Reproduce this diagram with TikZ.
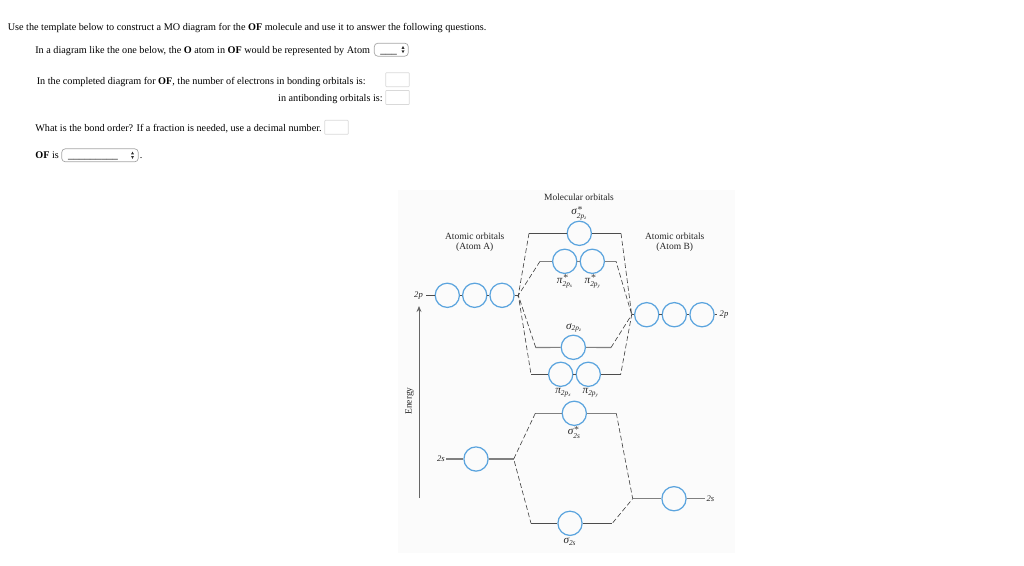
\documentclass[tikz,border=0pt]{standalone}
\usepackage{fontspec}
\setmainfont{Liberation Serif}
\usetikzlibrary{arrows.meta}
\newcommand{\orbsub}[1]{\mbox{\fontsize{4.2}{4.5}\selectfont\itshape #1}}
\newcommand{\orbsubsub}[1]{\raisebox{-0.5pt}{\fontsize{2.8}{3}\selectfont #1}}
\tikzset{
    orbital/.style={circle,draw=orbblue,line width=0.7pt,minimum size=0.485cm,inner sep=0pt},
    level/.style={draw=black!70,line width=0.55pt},
    levelgray/.style={draw=black!50,line width=0.65pt},
    mix/.style={draw=black!75,line width=0.35pt,dash pattern=on 2.8pt off 1.5pt},
    question/.style={anchor=base west,inner sep=0pt,font=\fontsize{5.8}{7}\selectfont},
    caption/.style={align=center,inner sep=0pt,text=black!85,font=\fontsize{5.4}{5.9}\selectfont},
    atomlabel/.style={inner sep=0pt,text=black!85,font=\fontsize{4.9}{5.2}\selectfont\itshape},
    orblabel/.style={inner sep=0pt,text=black!85,font=\fontsize{6.4}{6.8}\selectfont\itshape},
    inputbox/.style={draw=black!15,line width=0.4pt,rounded corners=0.4pt,minimum width=0.47cm,minimum height=0.28cm,inner sep=0pt},
    selectbox/.style={draw=black!35,line width=0.4pt,rounded corners=2pt,minimum height=0.26cm,inner sep=0pt}
}
\definecolor{orbblue}{HTML}{5BA4DE}
\definecolor{panel}{HTML}{FBFBFB}
\begin{document}
\begin{tikzpicture}[x=0.02cm,y=-0.02cm]
    \useasboundingbox (0,0) rectangle (1024,565);
    \fill[panel] (398,190) rectangle (735,553);

    % preguntas
    \node[question] (q1) at (7.5,30) {Use the template below to construct a MO diagram for the \textbf{OF} molecule and use it to answer the following questions.};
    \node[question] (q2) at (35,53) {In a diagram like the one below, the \textbf{O} atom in \textbf{OF} would be represented by Atom};
    \node[question] (q3) at (36.5,84) {In the completed diagram for \textbf{OF}, the number of electrons in bonding orbitals is:};
    \node[question,anchor=base east] (q4) at (383,101.5) {in antibonding orbitals is:};
    \node[question] (q5) at (35,131) {What is the bond order? If a fraction is needed, use a decimal number.};
    \node[question] (q6) at (35,158) {\textbf{OF} is};
    \node[question] (dot) at (139.5,158) {.};

    % campos
    \node[inputbox] (in1) at (397.5,79.7) {};
    \node[inputbox] (in2) at (397.5,97.5) {};
    \node[inputbox] (in3) at (336.5,127.3) {};
    \node[selectbox,minimum width=0.68cm] (sel1) at (391.3,49.7) {};
    \node[selectbox,minimum width=1.53cm] (sel2) at (100,155.3) {};
    \node[inner sep=0pt,anchor=base west,font=\fontsize{6.3}{7.5}\selectfont] (blank1) at (380,53) {\_\_\_};
    \node[inner sep=0pt,anchor=base west,font=\fontsize{6.3}{7.5}\selectfont] (blank2) at (67.7,158.5) {\_\_\_\_\_\_\_\_\_};
    \fill[black!80] (401.5,48.8) -- (403,46) -- (404.5,48.8) -- cycle;
    \fill[black!80] (401.5,50.4) -- (403,53.2) -- (404.5,50.4) -- cycle;
    \fill[black!80] (131,154.4) -- (132.5,151.6) -- (134,154.4) -- cycle;
    \fill[black!80] (131,156) -- (132.5,158.8) -- (134,156) -- cycle;

    % titulos
    \node[caption] (momo) at (579,197.7) {Molecular orbitals};
    \node[caption] (atoma) at (474.7,242.5) {Atomic orbitals\\(Atom A)};
    \node[caption] (atomb) at (674.7,242.5) {Atomic orbitals\\(Atom B)};
    \node[caption,rotate=90] (energy) at (409.5,401) {Energy};

    % eixo de energia
    \coordinate (ebot) at (419,498);
    \coordinate (etop) at (419,306);
    \draw[-{Stealth[length=3.4pt,width=2.8pt]},draw=black!60,line width=0.55pt] (ebot) -- (etop);

    % extremos dos niveis
    \coordinate (a2pl) at (426,295.3);
    \coordinate (a2pr) at (518.3,295.3);
    \coordinate (b2pl) at (631.7,314.7);
    \coordinate (b2pr) at (717.3,314.7);
    \coordinate (a2sl) at (446,459);
    \coordinate (a2sr) at (513.7,459);
    \coordinate (b2sl) at (632.7,498.7);
    \coordinate (b2sr) at (705,498.7);
    \coordinate (ss2pl) at (529,233.3);
    \coordinate (ss2pr) at (621,233.3);
    \coordinate (ps2pl) at (540,261.3);
    \coordinate (ps2pr) at (616,261.3);
    \coordinate (s2pl) at (535.7,347.5);
    \coordinate (s2pr) at (611,347.5);
    \coordinate (p2pl) at (531,374.3);
    \coordinate (p2pr) at (620.7,374.3);
    \coordinate (ss2sl) at (535.3,413.3);
    \coordinate (ss2sr) at (616.3,413.3);
    \coordinate (s2sl) at (531,523.3);
    \coordinate (s2sr) at (612.3,523.3);

    % orbitais atomicos
    \node[orbital] (a2p1) at (447.3,295.3) {};
    \node[orbital] (a2p2) at (474.7,295.3) {};
    \node[orbital] (a2p3) at (502,295.3) {};
    \node[orbital] (b2p1) at (646.7,314.7) {};
    \node[orbital] (b2p2) at (674.3,314.7) {};
    \node[orbital] (b2p3) at (702,314.7) {};
    \node[orbital] (a2s) at (476,459) {};
    \node[orbital] (b2s) at (674,498.7) {};

    % orbitais moleculares
    \node[orbital] (ss2p) at (579.3,233.3) {};
    \node[orbital] (ps2p1) at (564.7,261.3) {};
    \node[orbital] (ps2p2) at (592.3,261.3) {};
    \node[orbital] (s2p) at (573.3,347.3) {};
    \node[orbital] (p2p1) at (560.7,374.3) {};
    \node[orbital] (p2p2) at (588.3,374.3) {};
    \node[orbital] (ss2s) at (574.3,413.3) {};
    \node[orbital] (s2s) at (570,523.3) {};

    % niveis
    \draw[level] (a2pl) -- (a2p1) -- (a2p2) -- (a2p3) -- (a2pr);
    \draw[level] (b2pl) -- (b2p1) -- (b2p2) -- (b2p3) -- (b2pr);
    \draw[levelgray] (a2sl) -- (a2s) -- (a2sr);
    \draw[levelgray] (b2sl) -- (b2s) -- (b2sr);
    \draw[level] (ss2pl) -- (ss2p) -- (ss2pr);
    \draw[levelgray] (ps2pl) -- (ps2p1) -- (ps2p2) -- (ps2pr);
    \draw[levelgray] (s2pl) -- (s2p) -- (s2pr);
    \draw[level] (p2pl) -- (p2p1) -- (p2p2) -- (p2pr);
    \draw[levelgray] (ss2sl) -- (ss2s) -- (ss2sr);
    \draw[level] (s2sl) -- (s2s) -- (s2sr);

    % ligacoes tracejadas
    \draw[mix] (ss2pl) -- (a2pr) -- (ps2pl);
    \draw[mix] (s2pl) -- (a2pr) -- (p2pl);
    \draw[mix] (ss2pr) -- (b2pl) -- (ps2pr);
    \draw[mix] (s2pr) -- (b2pl) -- (p2pr);
    \draw[mix] (ss2sl) -- (a2sr) -- (s2sl);
    \draw[mix] (ss2sr) -- (b2sl) -- (s2sr);

    % rotulos
    \node[atomlabel] (l2pa) at (418.5,295.3) {2p};
    \node[atomlabel] (l2pb) at (724,315) {2p};
    \node[atomlabel] (l2sa) at (441,459) {2s};
    \node[atomlabel] (l2sb) at (710.5,499) {2s};
    \node[orblabel] (lss2p) at (579.3,213) {$\mbox{σ}^{*}_{\orbsub{2p\orbsubsub{z}}}$};
    \node[orblabel] (lps2p1) at (565,281.7) {$\mbox{π}^{*}_{\orbsub{2p\orbsubsub{x}}}$};
    \node[orblabel] (lps2p2) at (592.7,281.7) {$\mbox{π}^{*}_{\orbsub{2p\orbsubsub{y}}}$};
    \node[orblabel] (ls2p) at (574,328) {$\mbox{σ}_{\orbsub{2p\orbsubsub{z}}}$};
    \node[orblabel] (lp2p1) at (563.3,392.7) {$\mbox{π}_{\orbsub{2p\orbsubsub{x}}}$};
    \node[orblabel] (lp2p2) at (590.7,392.7) {$\mbox{π}_{\orbsub{2p\orbsubsub{y}}}$};
    \node[orblabel] (lss2s) at (574.3,432.3) {$\mbox{σ}^{*}_{\orbsub{2s}}$};
    \node[orblabel] (ls2s) at (570,542) {$\mbox{σ}_{\orbsub{2s}}$};
\end{tikzpicture}
\end{document}
